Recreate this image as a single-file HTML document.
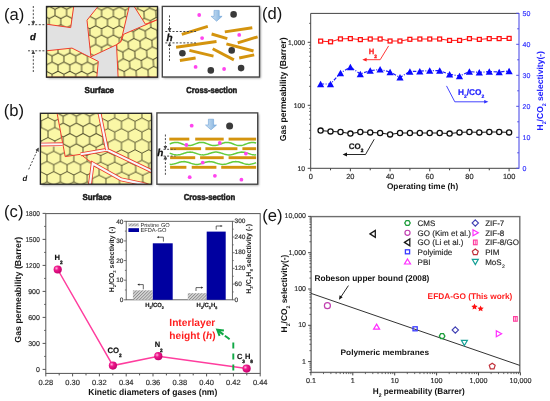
<!DOCTYPE html>
<html><head><meta charset="utf-8"><title>Figure</title><style>
html,body{margin:0;padding:0;background:#fff;overflow:hidden;}
svg{display:block;}
text{font-family:"Liberation Sans",Arial,sans-serif;text-rendering:geometricPrecision;}
</style></head><body>
<svg width="550" height="401" viewBox="0 0 550 401">
<rect width="550" height="401" fill="#fff"/>
<defs><pattern id="pa1" patternUnits="userSpaceOnUse" width="11.600" height="18.300" x="55.00" y="3.35"><rect x="-1" y="-1" width="13.600" height="20.300" fill="#faf7a6"/><path d="M5.80,0 V3.05 L11.60,6.10 V12.20 L5.80,15.25 V18.30 M5.80,15.25 L0,12.20 V6.10 L5.80,3.05" fill="none" stroke="#4c4828" stroke-width="1.0"/></pattern><pattern id="pa2" patternUnits="userSpaceOnUse" width="11.800" height="18.600" x="95.70" y="13.30"><rect x="-1" y="-1" width="13.800" height="20.600" fill="#faf7a6"/><path d="M5.90,0 V3.10 L11.80,6.20 V12.40 L5.90,15.50 V18.60 M5.90,15.50 L0,12.40 V6.20 L5.90,3.10" fill="none" stroke="#4c4828" stroke-width="1.0"/></pattern><pattern id="pa3" patternUnits="userSpaceOnUse" width="11.900" height="19.500" x="123.05" y="45.25" patternTransform="rotate(-4 129.0 55.0)"><rect x="-1" y="-1" width="13.900" height="21.500" fill="#faf7a6"/><path d="M5.95,0 V3.25 L11.90,6.50 V13.00 L5.95,16.25 V19.50 M5.95,16.25 L0,13.00 V6.50 L5.95,3.25" fill="none" stroke="#4c4828" stroke-width="1.0"/></pattern><pattern id="pa5" patternUnits="userSpaceOnUse" width="11.800" height="18.300" x="52.10" y="49.85"><rect x="-1" y="-1" width="13.800" height="20.300" fill="#faf7a6"/><path d="M5.90,0 V3.05 L11.80,6.10 V12.20 L5.90,15.25 V18.30 M5.90,15.25 L0,12.20 V6.10 L5.90,3.05" fill="none" stroke="#4c4828" stroke-width="1.0"/></pattern><pattern id="pb1" patternUnits="userSpaceOnUse" width="13.600" height="20.100" x="41.20" y="114.15"><rect x="-1" y="-1" width="15.600" height="22.100" fill="#faf7a6"/><path d="M6.80,0 V3.35 L13.60,6.70 V13.40 L6.80,16.75 V20.10 M6.80,16.75 L0,13.40 V6.70 L6.80,3.35" fill="none" stroke="#4f4c2a" stroke-width="0.95"/></pattern><pattern id="pb2" patternUnits="userSpaceOnUse" width="13.400" height="20.400" x="47.00" y="147.80"><rect x="-1" y="-1" width="15.400" height="22.400" fill="#faf7a6"/><path d="M6.70,0 V3.40 L13.40,6.80 V13.60 L6.70,17.00 V20.40 M6.70,17.00 L0,13.60 V6.80 L6.70,3.40" fill="none" stroke="#4f4c2a" stroke-width="0.95"/></pattern><pattern id="pb3" patternUnits="userSpaceOnUse" width="13.200" height="20.700" x="63.20" y="109.35"><rect x="-1" y="-1" width="15.200" height="22.700" fill="#faf7a6"/><path d="M6.60,0 V3.45 L13.20,6.90 V13.80 L6.60,17.25 V20.70 M6.60,17.25 L0,13.80 V6.90 L6.60,3.45" fill="none" stroke="#4f4c2a" stroke-width="0.95"/></pattern><pattern id="pb4" patternUnits="userSpaceOnUse" width="13.600" height="21.150" x="121.50" y="114.42"><rect x="-1" y="-1" width="15.600" height="23.150" fill="#faf7a6"/><path d="M6.80,0 V3.52 L13.60,7.05 V14.10 L6.80,17.62 V21.15 M6.80,17.62 L0,14.10 V7.05 L6.80,3.52" fill="none" stroke="#4f4c2a" stroke-width="0.95"/></pattern><pattern id="pb5" patternUnits="userSpaceOnUse" width="14.000" height="19.800" x="100.70" y="148.90"><rect x="-1" y="-1" width="16.000" height="21.800" fill="#faf7a6"/><path d="M7.00,0 V3.30 L14.00,6.60 V13.20 L7.00,16.50 V19.80 M7.00,16.50 L0,13.20 V6.60 L7.00,3.30" fill="none" stroke="#4f4c2a" stroke-width="0.95"/></pattern><pattern id="pb6" patternUnits="userSpaceOnUse" width="13.600" height="20.400" x="92.30" y="171.80"><rect x="-1" y="-1" width="15.600" height="22.400" fill="#faf7a6"/><path d="M6.80,0 V3.40 L13.60,6.80 V13.60 L6.80,17.00 V20.40 M6.80,17.00 L0,13.60 V6.80 L6.80,3.40" fill="none" stroke="#4f4c2a" stroke-width="0.95"/></pattern><clipPath id="clipA"><rect x="46.5" y="6.5" width="111" height="70.7"/></clipPath><clipPath id="clipB"><rect x="40.4" y="113.3" width="111.1" height="70.9"/></clipPath><linearGradient id="barr" x1="0" x2="1" y1="0" y2="0"><stop offset="0" stop-color="#cfe2f3"/><stop offset="1" stop-color="#7fb0de"/></linearGradient><filter id="shd" x="-10%" y="-10%" width="130%" height="130%"><feGaussianBlur stdDeviation="0.8"/></filter><radialGradient id="ball" cx="0.35" cy="0.35" r="0.7"><stop offset="0" stop-color="#ffb3e0"/><stop offset="0.35" stop-color="#f0198c"/><stop offset="1" stop-color="#c0006a"/></radialGradient><pattern id="hatch" patternUnits="userSpaceOnUse" width="2.2" height="2.2" patternTransform="rotate(45)"><rect width="2.2" height="2.2" fill="#d4d4d4"/><rect width="0.8" height="2.2" fill="#8c8c8c"/></pattern><marker id="arK" markerWidth="6" markerHeight="6" refX="5" refY="3" orient="auto" markerUnits="userSpaceOnUse"><path d="M0,0.5 L6,3 L0,5.5 Z" fill="#222"/></marker><marker id="arR" markerWidth="6" markerHeight="6" refX="5" refY="3" orient="auto" markerUnits="userSpaceOnUse"><path d="M0,0.5 L6,3 L0,5.5 Z" fill="#ff2020"/></marker><marker id="arB" markerWidth="6" markerHeight="6" refX="5" refY="3" orient="auto" markerUnits="userSpaceOnUse"><path d="M0,0.5 L6,3 L0,5.5 Z" fill="#2a2aff"/></marker><marker id="arD" markerWidth="4" markerHeight="4" refX="3" refY="2" orient="auto" markerUnits="userSpaceOnUse"><path d="M0,0 L4,2 L0,4 Z" fill="#444"/></marker><marker id="arS" markerWidth="3" markerHeight="3" refX="2.5" refY="1.5" orient="auto" markerUnits="userSpaceOnUse"><path d="M0,0 L3,1.5 L0,3 Z" fill="#222"/></marker></defs>
<text x="3.9" y="19.6" font-size="16.6" fill="#141414" text-anchor="start" >(a)</text>
<text x="3.7" y="115.6" font-size="16.6" fill="#141414" text-anchor="start" >(b)</text>
<text x="4.1" y="216.8" font-size="16.6" fill="#141414" text-anchor="start" >(c)</text>
<text x="262.1" y="18.8" font-size="16.6" fill="#141414" text-anchor="start" >(d)</text>
<text x="262.2" y="221.1" font-size="16.6" fill="#141414" text-anchor="start" >(e)</text>
<rect x="47.7" y="7.7" width="111.0" height="70.7" fill="#9a9a9a" filter="url(#shd)"/>
<rect x="46.5" y="6.5" width="111.0" height="70.7" fill="#e1e1e1"/>
<g clip-path="url(#clipA)">
<polygon points="46.5,6.5 73.7,6.5 70.7,27.6 46.5,24.2" fill="url(#pa1)" stroke="#ee3b2c" stroke-width="1.0" stroke-linejoin="round"/>
<polygon points="98,6.5 129.2,6.5 120.8,41.9 116.5,44.75 90.9,56.8 87.0,20.2" fill="url(#pa2)" stroke="#ee3b2c" stroke-width="1.0" stroke-linejoin="round"/>
<polygon points="134.2,6.5 157.5,6.5 157.5,19.7 145.4,24.2" fill="url(#pa3)" stroke="#ee3b2c" stroke-width="1.0" stroke-linejoin="round"/>
<polygon points="123.6,34.3 157.5,19.7 157.5,77.2 118.1,77.2 116.5,44.75 120.8,41.9" fill="url(#pa3)" stroke="#ee3b2c" stroke-width="1.0" stroke-linejoin="round"/>
<polygon points="46.5,50.8 72,48.1 98.3,61.4 96.8,77.2 46.5,77.2" fill="url(#pa5)" stroke="#ee3b2c" stroke-width="1.0" stroke-linejoin="round"/>
</g>
<rect x="46.5" y="6.5" width="111.0" height="70.7" fill="none" stroke="#262626" stroke-width="1.35"/>
<line x1="28" y1="24.7" x2="46.5" y2="24.7" stroke="#4a4a4a" stroke-width="1" stroke-dasharray="2,1.6"/>
<line x1="28" y1="50.8" x2="46.5" y2="50.8" stroke="#4a4a4a" stroke-width="1" stroke-dasharray="2,1.6"/>
<line x1="33.3" y1="6" x2="33.3" y2="24.2" stroke="#4a4a4a" stroke-width="1" stroke-dasharray="2,1.6" marker-end="url(#arD)"/>
<line x1="33.3" y1="72" x2="33.3" y2="51.3" stroke="#4a4a4a" stroke-width="1" stroke-dasharray="2,1.6" marker-end="url(#arD)"/>
<text x="30.0" y="40.2" font-size="9.5" font-weight="bold" font-style="italic" fill="#111" text-anchor="start" stroke="#111" stroke-width="0.3">d</text>
<rect x="163.5" y="7.6000000000000005" width="97.19999999999999" height="70.6" fill="#9a9a9a" filter="url(#shd)"/>
<rect x="162.3" y="6.4" width="97.19999999999999" height="70.6" fill="#fff"/>
<rect x="162.3" y="6.4" width="97.19999999999999" height="70.6" fill="none" stroke="#444" stroke-width="1.35"/>
<path d="M214.0,10.4 H219.2 V16.34 H222.1 L216.6,21.2 L211.1,16.34 H214.0 Z" fill="url(#barr)" stroke="#6fa3d6" stroke-width="0.6"/>
<line x1="181.8" y1="34.3" x2="207.8" y2="26.4" stroke="#d4940e" stroke-width="2.9"/>
<line x1="211.6" y1="34" x2="227.3" y2="38.7" stroke="#d4940e" stroke-width="2.9"/>
<line x1="224.8" y1="31.9" x2="252.3" y2="27.7" stroke="#d4940e" stroke-width="2.9"/>
<line x1="237.7" y1="42.9" x2="257.6" y2="36.8" stroke="#d4940e" stroke-width="2.9"/>
<line x1="176.1" y1="47.2" x2="216.5" y2="41.5" stroke="#d4940e" stroke-width="2.9"/>
<line x1="226.4" y1="43.8" x2="253.5" y2="51" stroke="#d4940e" stroke-width="2.9"/>
<line x1="189.4" y1="50.4" x2="213.5" y2="56.1" stroke="#d4940e" stroke-width="2.9"/>
<line x1="212.7" y1="48.7" x2="233.9" y2="59.9" stroke="#d4940e" stroke-width="2.9"/>
<line x1="179.9" y1="60.5" x2="195.6" y2="58" stroke="#d4940e" stroke-width="2.9"/>
<line x1="239.2" y1="58" x2="254.2" y2="54.8" stroke="#d4940e" stroke-width="2.9"/>
<circle cx="233.6" cy="14.4" r="3.3" fill="#3a3a3a"/>
<circle cx="182.4" cy="53.3" r="3.3" fill="#3a3a3a"/>
<circle cx="231.7" cy="50.4" r="3.3" fill="#3a3a3a"/>
<circle cx="210.8" cy="70.4" r="3.3" fill="#3a3a3a"/>
<circle cx="241.1" cy="68.1" r="3.3" fill="#3a3a3a"/>
<circle cx="199.2" cy="15" r="1.9" fill="#ff44ee"/>
<circle cx="202.1" cy="38.1" r="1.9" fill="#ff44ee"/>
<circle cx="239.2" cy="34.9" r="1.9" fill="#ff44ee"/>
<circle cx="195.6" cy="66.9" r="1.9" fill="#ff44ee"/>
<circle cx="224.1" cy="69" r="1.9" fill="#ff44ee"/>
<line x1="169.5" y1="15.4" x2="169.5" y2="31.0" stroke="#4a4a4a" stroke-width="1" stroke-dasharray="2,1.6" marker-end="url(#arD)"/>
<line x1="169.5" y1="60.9" x2="169.5" y2="43.4" stroke="#4a4a4a" stroke-width="1" stroke-dasharray="2,1.6" marker-end="url(#arD)"/>
<line x1="165.3" y1="31.5" x2="196" y2="31.5" stroke="#4a4a4a" stroke-width="1" stroke-dasharray="2,1.6"/>
<line x1="165.3" y1="42.9" x2="196" y2="42.9" stroke="#4a4a4a" stroke-width="1" stroke-dasharray="2,1.6"/>
<rect x="166.5" y="33.6" width="7.5" height="7.6" fill="#fff"/>
<text x="166.4" y="40.9" font-size="10" font-weight="bold" font-style="italic" fill="#111" text-anchor="start" stroke="#111" stroke-width="0.3">h</text>
<text x="84.6" y="93.1" font-size="8.6" font-weight="bold" fill="#1a1a1a" text-anchor="start" textLength="29.5" lengthAdjust="spacingAndGlyphs" stroke="#1a1a1a" stroke-width="0.5">Surface</text>
<text x="186.3" y="93.2" font-size="8.6" font-weight="bold" fill="#1a1a1a" text-anchor="start" textLength="51" lengthAdjust="spacingAndGlyphs" stroke="#1a1a1a" stroke-width="0.5">Cross-section</text>
<rect x="41.6" y="114.5" width="111.1" height="70.89999999999999" fill="#9a9a9a" filter="url(#shd)"/>
<rect x="40.4" y="113.3" width="111.1" height="70.89999999999999" fill="#fff"/>
<g clip-path="url(#clipB)">
<polygon points="40.4,113.3 57.1,113.3 62.6,142.6 40.4,142.6" fill="url(#pb1)"/>
<polygon points="40.4,146.5 63.3,146.5 65.2,156.6 80.6,154.3 92.7,163.5 89.8,184.2 40.4,184.2" fill="url(#pb2)"/>
<polygon points="57.1,113.3 99.5,113.3 107,149.75 80.6,154.3 65.2,156.6" fill="url(#pb3)"/>
<polygon points="99.5,113.3 151.5,113.3 151.5,171.2 107,149.75" fill="url(#pb4)"/>
<polygon points="80.6,154.3 107,149.75 151.5,171.2 151.5,184.2 141.25,184.2 121.25,179.4 92.7,163.5" fill="url(#pb5)"/>
<polygon points="92.7,163.5 121.25,179.4 141.25,184.2 89.8,184.2" fill="url(#pb6)"/>
<polyline points="57.1,113.3 65.2,156.6 80.6,154.3 92.7,163.5" fill="none" stroke="#ee3b2c" stroke-width="1.0" stroke-linejoin="round"/>
<polyline points="38,144.6 62.6,144.2" fill="none" stroke="#ee3b2c" stroke-width="3.8" stroke-linejoin="miter"/>
<polyline points="38,144.6 62.6,144.2" fill="none" stroke="#f6f7fc" stroke-width="2.1" stroke-linejoin="miter"/>
<polyline points="80.6,154.3 107,149.75 154,172.4" fill="none" stroke="#ee3b2c" stroke-width="3.8" stroke-linejoin="miter"/>
<polyline points="80.6,154.3 107,149.75 154,172.4" fill="none" stroke="#f6f7fc" stroke-width="2.1" stroke-linejoin="miter"/>
<polyline points="107,149.75 99.2,111.5" fill="none" stroke="#ee3b2c" stroke-width="3.8" stroke-linejoin="miter"/>
<polyline points="107,149.75 99.2,111.5" fill="none" stroke="#f6f7fc" stroke-width="2.1" stroke-linejoin="miter"/>
<polyline points="89.8,185.5 92.7,163.5 121.25,179.4 141.25,183.6 148,185.6" fill="none" stroke="#ee3b2c" stroke-width="3.8" stroke-linejoin="miter"/>
<polyline points="89.8,185.5 92.7,163.5 121.25,179.4 141.25,183.6 148,185.6" fill="none" stroke="#f6f7fc" stroke-width="2.1" stroke-linejoin="miter"/>
</g>
<rect x="40.4" y="113.3" width="111.1" height="70.89999999999999" fill="none" stroke="#262626" stroke-width="1.35"/>
<line x1="28.7" y1="169.4" x2="38.2" y2="148.4" stroke="#4a4a4a" stroke-width="1" stroke-dasharray="2,1.6" marker-end="url(#arD)"/>
<text x="22.6" y="181.2" font-size="7.8" font-weight="bold" font-style="italic" fill="#111" text-anchor="start" >d</text>
<rect x="158.1" y="114.10000000000001" width="100.79999999999998" height="71.29999999999998" fill="#9a9a9a" filter="url(#shd)"/>
<rect x="156.9" y="112.9" width="100.79999999999998" height="71.29999999999998" fill="#fff"/>
<rect x="156.9" y="112.9" width="100.79999999999998" height="71.29999999999998" fill="none" stroke="#444" stroke-width="1.35"/>
<path d="M208.4,119.2 H213.6 V125.03 H216.5 L211,129.8 L205.5,125.03 H208.4 Z" fill="url(#barr)" stroke="#6fa3d6" stroke-width="0.6"/>
<circle cx="229.6" cy="126.1" r="3.5" fill="#3a3a3a"/>
<rect x="169.3" y="137.65" width="20.0" height="2.9" fill="#d4940e"/>
<rect x="195.2" y="137.65" width="28.5" height="2.9" fill="#d4940e"/>
<rect x="228.6" y="137.65" width="27.50000000000003" height="2.9" fill="#d4940e"/>
<rect x="170.1" y="147.25" width="31.0" height="2.9" fill="#d4940e"/>
<rect x="205.4" y="147.25" width="32.0" height="2.9" fill="#d4940e"/>
<rect x="242.4" y="147.25" width="13.700000000000017" height="2.9" fill="#d4940e"/>
<rect x="170.1" y="156.25" width="25.099999999999994" height="2.9" fill="#d4940e"/>
<rect x="200.1" y="156.25" width="23.599999999999994" height="2.9" fill="#d4940e"/>
<rect x="228.6" y="156.25" width="27.50000000000003" height="2.9" fill="#d4940e"/>
<rect x="170.1" y="165.85000000000002" width="16.30000000000001" height="2.9" fill="#d4940e"/>
<rect x="191.7" y="165.85000000000002" width="24.700000000000017" height="2.9" fill="#d4940e"/>
<rect x="221.2" y="165.85000000000002" width="34.900000000000034" height="2.9" fill="#d4940e"/>
<polyline points="169.7,143.97 170.9,143.51 172.1,143.08 173.3,142.74 174.5,142.51 175.7,142.40 176.9,142.44 178.1,142.61 179.3,142.90 180.5,143.29 181.7,143.74 182.9,144.21 184.1,144.66 185.3,145.06 186.5,145.36 187.7,145.55 188.9,145.60 190.1,145.51 191.3,145.29 192.5,144.96 193.7,144.55 194.9,144.09 196.1,143.62 197.3,143.18 198.5,142.82 199.7,142.55 200.9,142.42 202.1,142.42 203.3,142.55 204.5,142.82 205.7,143.18 206.9,143.62 208.1,144.09 209.3,144.55 210.5,144.96 211.7,145.29 212.9,145.51 214.1,145.60 215.3,145.55 216.5,145.36 217.7,145.06 218.9,144.66 220.1,144.21 221.3,143.74 222.5,143.29 223.7,142.90 224.9,142.61 226.1,142.44 227.3,142.40 228.5,142.51 229.7,142.74 230.9,143.08 232.1,143.51 233.3,143.97 234.5,144.44 235.7,144.87 236.9,145.22 238.1,145.47 239.3,145.59 240.5,145.57 241.7,145.42 242.9,145.14 244.1,144.77 245.3,144.32 246.5,143.85 247.7,143.39 248.9,142.99 250.1,142.67 251.3,142.47 252.5,142.40 253.7,142.47 254.9,142.67 256.1,142.99" fill="none" stroke="#62cc3c" stroke-width="1.5"/>
<polyline points="169.7,153.23 170.9,153.64 172.1,154.03 173.3,154.38 174.5,154.65 175.7,154.83 176.9,154.90 178.1,154.85 179.3,154.69 180.5,154.43 181.7,154.09 182.9,153.70 184.1,153.30 185.3,152.91 186.5,152.57 187.7,152.31 188.9,152.15 190.1,152.10 191.3,152.17 192.5,152.35 193.7,152.62 194.9,152.97 196.1,153.36 197.3,153.77 198.5,154.15 199.7,154.48 200.9,154.72 202.1,154.87 203.3,154.90 204.5,154.81 205.7,154.61 206.9,154.32 208.1,153.96 209.3,153.57 210.5,153.16 211.7,152.79 212.9,152.47 214.1,152.25 215.3,152.12 216.5,152.11 217.7,152.22 218.9,152.43 220.1,152.73 221.3,153.10 222.5,153.50 223.7,153.90 224.9,154.27 226.1,154.57 227.3,154.78 228.5,154.89 229.7,154.88 230.9,154.75 232.1,154.53 233.3,154.21 234.5,153.84 235.7,153.43 236.9,153.04 238.1,152.68 239.3,152.39 240.5,152.19 241.7,152.10 242.9,152.13 244.1,152.28 245.3,152.52 246.5,152.85 247.7,153.23 248.9,153.64 250.1,154.03 251.3,154.38 252.5,154.65 253.7,154.83 254.9,154.90 256.1,154.85" fill="none" stroke="#62cc3c" stroke-width="1.5"/>
<polyline points="169.7,164.36 170.9,164.40 172.1,164.32 173.3,164.13 174.5,163.85 175.7,163.50 176.9,163.10 178.1,162.70 179.3,162.32 180.5,162.00 181.7,161.76 182.9,161.63 184.1,161.61 185.3,161.70 186.5,161.91 187.7,162.20 188.9,162.57 190.1,162.97 191.3,163.37 192.5,163.74 193.7,164.05 194.9,164.27 196.1,164.39 197.3,164.39 198.5,164.27 199.7,164.05 200.9,163.74 202.1,163.37 203.3,162.97 204.5,162.57 205.7,162.20 206.9,161.91 208.1,161.70 209.3,161.61 210.5,161.63 211.7,161.76 212.9,162.00 214.1,162.32 215.3,162.70 216.5,163.10 217.7,163.50 218.9,163.85 220.1,164.13 221.3,164.32 222.5,164.40 223.7,164.36 224.9,164.21 226.1,163.95 227.3,163.62 228.5,163.24 229.7,162.83 230.9,162.44 232.1,162.10 233.3,161.83 234.5,161.66 235.7,161.60 236.9,161.66 238.1,161.83 239.3,162.10 240.5,162.44 241.7,162.83 242.9,163.24 244.1,163.62 245.3,163.95 246.5,164.21 247.7,164.36 248.9,164.40 250.1,164.32 251.3,164.13 252.5,163.85 253.7,163.50 254.9,163.10 256.1,162.70" fill="none" stroke="#62cc3c" stroke-width="1.5"/>
<circle cx="191.7" cy="125.7" r="1.9" fill="#ff44ee"/>
<circle cx="186.4" cy="145" r="1.9" fill="#ff44ee"/>
<circle cx="219.8" cy="143" r="1.9" fill="#ff44ee"/>
<circle cx="245.9" cy="153.6" r="1.9" fill="#ff44ee"/>
<circle cx="202.7" cy="162.6" r="1.9" fill="#ff44ee"/>
<circle cx="189.7" cy="177.2" r="1.9" fill="#ff44ee"/>
<circle cx="214.9" cy="175.8" r="1.9" fill="#ff44ee"/>
<circle cx="241.4" cy="179.7" r="1.9" fill="#ff44ee"/>
<line x1="165.4" y1="134.5" x2="165.4" y2="148.8" stroke="#4a4a4a" stroke-width="1" stroke-dasharray="2,1.6" marker-end="url(#arD)"/>
<line x1="165.4" y1="174.8" x2="165.4" y2="156.6" stroke="#4a4a4a" stroke-width="1" stroke-dasharray="2,1.6" marker-end="url(#arD)"/>
<line x1="163.5" y1="149.3" x2="175.6" y2="149.3" stroke="#4a4a4a" stroke-width="1" stroke-dasharray="2,1.6"/>
<line x1="163.5" y1="156.1" x2="175.6" y2="156.1" stroke="#4a4a4a" stroke-width="1" stroke-dasharray="2,1.6"/>
<text x="157.2" y="156.4" font-size="10" font-weight="bold" font-style="italic" fill="#111" text-anchor="start" stroke="#111" stroke-width="0.3">h</text>
<text x="82.5" y="199.8" font-size="8.6" font-weight="bold" fill="#1a1a1a" text-anchor="start" textLength="29" lengthAdjust="spacingAndGlyphs" stroke="#1a1a1a" stroke-width="0.5">Surface</text>
<text x="183.7" y="199.8" font-size="8.6" font-weight="bold" fill="#1a1a1a" text-anchor="start" textLength="51.5" lengthAdjust="spacingAndGlyphs" stroke="#1a1a1a" stroke-width="0.5">Cross-section</text>
<rect x="45.8" y="213.6" width="214.39999999999998" height="159.79999999999998" fill="none" stroke="#555" stroke-width="1"/>
<line x1="42.60" y1="369.40" x2="45.80" y2="369.40" stroke="#555" stroke-width="1" />
<text x="39.9" y="371.59999999999997" font-size="7.0" fill="#2e2e2e" text-anchor="end" stroke="#2e2e2e" stroke-width="0.18">0</text>
<line x1="44.20" y1="356.40" x2="45.80" y2="356.40" stroke="#555" stroke-width="1" />
<line x1="42.60" y1="343.40" x2="45.80" y2="343.40" stroke="#555" stroke-width="1" />
<text x="39.9" y="345.599" font-size="7.0" fill="#2e2e2e" text-anchor="end" stroke="#2e2e2e" stroke-width="0.18">300</text>
<line x1="44.20" y1="330.40" x2="45.80" y2="330.40" stroke="#555" stroke-width="1" />
<line x1="42.60" y1="317.40" x2="45.80" y2="317.40" stroke="#555" stroke-width="1" />
<text x="39.9" y="319.59799999999996" font-size="7.0" fill="#2e2e2e" text-anchor="end" stroke="#2e2e2e" stroke-width="0.18">600</text>
<line x1="44.20" y1="304.40" x2="45.80" y2="304.40" stroke="#555" stroke-width="1" />
<line x1="42.60" y1="291.40" x2="45.80" y2="291.40" stroke="#555" stroke-width="1" />
<text x="39.9" y="293.597" font-size="7.0" fill="#2e2e2e" text-anchor="end" stroke="#2e2e2e" stroke-width="0.18">900</text>
<line x1="44.20" y1="278.40" x2="45.80" y2="278.40" stroke="#555" stroke-width="1" />
<line x1="42.60" y1="265.40" x2="45.80" y2="265.40" stroke="#555" stroke-width="1" />
<text x="39.9" y="267.59599999999995" font-size="7.0" fill="#2e2e2e" text-anchor="end" textLength="14.4" lengthAdjust="spacingAndGlyphs" stroke="#2e2e2e" stroke-width="0.18">1200</text>
<line x1="44.20" y1="252.40" x2="45.80" y2="252.40" stroke="#555" stroke-width="1" />
<line x1="42.60" y1="239.39" x2="45.80" y2="239.39" stroke="#555" stroke-width="1" />
<text x="39.9" y="241.59499999999997" font-size="7.0" fill="#2e2e2e" text-anchor="end" textLength="14.4" lengthAdjust="spacingAndGlyphs" stroke="#2e2e2e" stroke-width="0.18">1500</text>
<line x1="44.20" y1="226.39" x2="45.80" y2="226.39" stroke="#555" stroke-width="1" />
<line x1="42.60" y1="213.39" x2="45.80" y2="213.39" stroke="#555" stroke-width="1" />
<text x="39.9" y="215.59399999999997" font-size="7.0" fill="#2e2e2e" text-anchor="end" textLength="14.4" lengthAdjust="spacingAndGlyphs" stroke="#2e2e2e" stroke-width="0.18">1800</text>
<line x1="45.80" y1="373.40" x2="45.80" y2="376.40" stroke="#555" stroke-width="1" />
<text x="45.8" y="385.0" font-size="7.5" fill="#2e2e2e" text-anchor="middle" stroke="#2e2e2e" stroke-width="0.18">0.28</text>
<line x1="59.20" y1="373.40" x2="59.20" y2="375.40" stroke="#555" stroke-width="1" />
<line x1="72.60" y1="373.40" x2="72.60" y2="376.40" stroke="#555" stroke-width="1" />
<text x="72.60000000000002" y="385.0" font-size="7.5" fill="#2e2e2e" text-anchor="middle" stroke="#2e2e2e" stroke-width="0.18">0.30</text>
<line x1="86.00" y1="373.40" x2="86.00" y2="375.40" stroke="#555" stroke-width="1" />
<line x1="99.40" y1="373.40" x2="99.40" y2="376.40" stroke="#555" stroke-width="1" />
<text x="99.39999999999998" y="385.0" font-size="7.5" fill="#2e2e2e" text-anchor="middle" stroke="#2e2e2e" stroke-width="0.18">0.32</text>
<line x1="112.80" y1="373.40" x2="112.80" y2="375.40" stroke="#555" stroke-width="1" />
<line x1="126.20" y1="373.40" x2="126.20" y2="376.40" stroke="#555" stroke-width="1" />
<text x="126.2" y="385.0" font-size="7.5" fill="#2e2e2e" text-anchor="middle" stroke="#2e2e2e" stroke-width="0.18">0.34</text>
<line x1="139.60" y1="373.40" x2="139.60" y2="375.40" stroke="#555" stroke-width="1" />
<line x1="153.00" y1="373.40" x2="153.00" y2="376.40" stroke="#555" stroke-width="1" />
<text x="153.00000000000003" y="385.0" font-size="7.5" fill="#2e2e2e" text-anchor="middle" stroke="#2e2e2e" stroke-width="0.18">0.36</text>
<line x1="166.40" y1="373.40" x2="166.40" y2="375.40" stroke="#555" stroke-width="1" />
<line x1="179.80" y1="373.40" x2="179.80" y2="376.40" stroke="#555" stroke-width="1" />
<text x="179.79999999999995" y="385.0" font-size="7.5" fill="#2e2e2e" text-anchor="middle" stroke="#2e2e2e" stroke-width="0.18">0.38</text>
<line x1="193.20" y1="373.40" x2="193.20" y2="375.40" stroke="#555" stroke-width="1" />
<line x1="206.60" y1="373.40" x2="206.60" y2="376.40" stroke="#555" stroke-width="1" />
<text x="206.60000000000002" y="385.0" font-size="7.5" fill="#2e2e2e" text-anchor="middle" stroke="#2e2e2e" stroke-width="0.18">0.40</text>
<line x1="220.00" y1="373.40" x2="220.00" y2="375.40" stroke="#555" stroke-width="1" />
<line x1="233.40" y1="373.40" x2="233.40" y2="376.40" stroke="#555" stroke-width="1" />
<text x="233.40000000000003" y="385.0" font-size="7.5" fill="#2e2e2e" text-anchor="middle" stroke="#2e2e2e" stroke-width="0.18">0.42</text>
<line x1="246.80" y1="373.40" x2="246.80" y2="375.40" stroke="#555" stroke-width="1" />
<line x1="260.20" y1="373.40" x2="260.20" y2="376.40" stroke="#555" stroke-width="1" />
<text x="260.20000000000005" y="385.0" font-size="7.5" fill="#2e2e2e" text-anchor="middle" stroke="#2e2e2e" stroke-width="0.18">0.44</text>
<text x="88.3" y="394.5" font-size="8.8" font-weight="bold" fill="#111" text-anchor="start" textLength="129" lengthAdjust="spacingAndGlyphs" >Kinetic diameters of gases (nm)</text>
<text transform="translate(20.6,289.7) rotate(-90)" x="0" y="0" font-size="8.8" font-weight="bold" fill="#111" text-anchor="middle" textLength="106" lengthAdjust="spacingAndGlyphs">Gas permeability (Barrer)</text>
<rect x="126.2" y="221.3" width="106.2" height="78.5" fill="#fff" stroke="#555" stroke-width="0.9"/>
<line x1="124.00" y1="299.80" x2="126.20" y2="299.80" stroke="#555" stroke-width="0.8" />
<text x="123.4" y="302.0" font-size="6.5" fill="#2e2e2e" text-anchor="end" stroke="#2e2e2e" stroke-width="0.18">0</text>
<line x1="124.90" y1="289.99" x2="126.20" y2="289.99" stroke="#555" stroke-width="0.8" />
<line x1="124.00" y1="280.18" x2="126.20" y2="280.18" stroke="#555" stroke-width="0.8" />
<text x="123.4" y="282.375" font-size="6.5" fill="#2e2e2e" text-anchor="end" stroke="#2e2e2e" stroke-width="0.18">10</text>
<line x1="124.90" y1="270.36" x2="126.20" y2="270.36" stroke="#555" stroke-width="0.8" />
<line x1="124.00" y1="260.55" x2="126.20" y2="260.55" stroke="#555" stroke-width="0.8" />
<text x="123.4" y="262.75" font-size="6.5" fill="#2e2e2e" text-anchor="end" stroke="#2e2e2e" stroke-width="0.18">20</text>
<line x1="124.90" y1="250.74" x2="126.20" y2="250.74" stroke="#555" stroke-width="0.8" />
<line x1="124.00" y1="240.93" x2="126.20" y2="240.93" stroke="#555" stroke-width="0.8" />
<text x="123.4" y="243.125" font-size="6.5" fill="#2e2e2e" text-anchor="end" stroke="#2e2e2e" stroke-width="0.18">30</text>
<line x1="124.90" y1="231.11" x2="126.20" y2="231.11" stroke="#555" stroke-width="0.8" />
<line x1="124.00" y1="221.30" x2="126.20" y2="221.30" stroke="#555" stroke-width="0.8" />
<text x="123.4" y="223.5" font-size="6.5" fill="#2e2e2e" text-anchor="end" stroke="#2e2e2e" stroke-width="0.18">40</text>
<line x1="232.40" y1="299.80" x2="234.60" y2="299.80" stroke="#555" stroke-width="0.8" />
<text x="234.6" y="301.5" font-size="6.5" fill="#2e2e2e" text-anchor="start" stroke="#2e2e2e" stroke-width="0.18">0</text>
<line x1="232.40" y1="291.95" x2="233.70" y2="291.95" stroke="#555" stroke-width="0.8" />
<line x1="232.40" y1="284.10" x2="234.60" y2="284.10" stroke="#555" stroke-width="0.8" />
<text x="234.6" y="285.8" font-size="6.5" fill="#2e2e2e" text-anchor="start" stroke="#2e2e2e" stroke-width="0.18">60</text>
<line x1="232.40" y1="276.25" x2="233.70" y2="276.25" stroke="#555" stroke-width="0.8" />
<line x1="232.40" y1="268.40" x2="234.60" y2="268.40" stroke="#555" stroke-width="0.8" />
<text x="234.6" y="270.1" font-size="6.5" fill="#2e2e2e" text-anchor="start" stroke="#2e2e2e" stroke-width="0.18">120</text>
<line x1="232.40" y1="260.55" x2="233.70" y2="260.55" stroke="#555" stroke-width="0.8" />
<line x1="232.40" y1="252.70" x2="234.60" y2="252.70" stroke="#555" stroke-width="0.8" />
<text x="234.6" y="254.4" font-size="6.5" fill="#2e2e2e" text-anchor="start" stroke="#2e2e2e" stroke-width="0.18">180</text>
<line x1="232.40" y1="244.85" x2="233.70" y2="244.85" stroke="#555" stroke-width="0.8" />
<line x1="232.40" y1="237.00" x2="234.60" y2="237.00" stroke="#555" stroke-width="0.8" />
<text x="234.6" y="238.7" font-size="6.5" fill="#2e2e2e" text-anchor="start" stroke="#2e2e2e" stroke-width="0.18">240</text>
<line x1="232.40" y1="229.15" x2="233.70" y2="229.15" stroke="#555" stroke-width="0.8" />
<line x1="232.40" y1="221.30" x2="234.60" y2="221.30" stroke="#555" stroke-width="0.8" />
<text x="234.6" y="223.0" font-size="6.5" fill="#2e2e2e" text-anchor="start" stroke="#2e2e2e" stroke-width="0.18">300</text>
<rect x="132.9" y="290.3" width="19.7" height="9.5" fill="url(#hatch)"/>
<rect x="152.8" y="243.3" width="19.9" height="56.5" fill="#0000a0"/>
<rect x="187.8" y="293.2" width="18.9" height="6.600000000000023" fill="url(#hatch)"/>
<rect x="206.7" y="231.6" width="19.0" height="68.20000000000002" fill="#0000a0"/>
<rect x="128.4" y="223.4" width="10.4" height="3.0" fill="url(#hatch)"/>
<rect x="128.4" y="228.2" width="10.6" height="3.8" fill="#0000a0"/>
<text x="140.4" y="226.8" font-size="5.7" fill="#2e2e2e" text-anchor="start" >Pristine GO</text>
<text x="140.4" y="232.4" font-size="5.7" fill="#2e2e2e" text-anchor="start" >EFDA-GO</text>
<polyline points="143.3,289.3 143.3,284.6 138.9,284.6" fill="none" stroke="#222" stroke-width="0.7"/>
<path d="M137.4,284.6 L139.4,283.5 L139.4,285.70000000000005 Z" fill="#222"/>
<polyline points="163.4,241.6 163.4,237.2 158.3,237.2" fill="none" stroke="#222" stroke-width="0.7"/>
<path d="M156.8,237.2 L158.8,236.1 L158.8,238.29999999999998 Z" fill="#222"/>
<polyline points="196.0,291.0 196.0,287.6 201.7,287.6" fill="none" stroke="#222" stroke-width="0.7"/>
<path d="M203.2,287.6 L201.2,286.5 L201.2,288.70000000000005 Z" fill="#222"/>
<polyline points="216.2,229.6 216.2,226.0 221.1,226.0" fill="none" stroke="#222" stroke-width="0.7"/>
<path d="M222.6,226.0 L220.6,224.9 L220.6,227.1 Z" fill="#222"/>
<text x="145.2" y="307.0" font-size="6.0" font-weight="bold" fill="#1a1a1a" text-anchor="start" textLength="18.7" lengthAdjust="spacingAndGlyphs" stroke="#1a1a1a" stroke-width="0.2">H<tspan font-size="3.72" dy="1.92">2</tspan><tspan dy="-1.92">/CO</tspan><tspan font-size="3.72" dy="1.92">2</tspan></text>
<text x="196.6" y="307.0" font-size="6.0" font-weight="bold" fill="#1a1a1a" text-anchor="start" textLength="20.6" lengthAdjust="spacingAndGlyphs" stroke="#1a1a1a" stroke-width="0.2">H<tspan font-size="3.72" dy="1.92">2</tspan><tspan dy="-1.92">/C</tspan><tspan font-size="3.72" dy="1.92">3</tspan><tspan dy="-1.92">H</tspan><tspan font-size="3.72" dy="1.92">8</tspan></text>
<text transform="translate(113.7,259.4) rotate(-90)" x="0" y="0" font-size="7.0" font-weight="bold" fill="#222" text-anchor="middle" textLength="65.5" lengthAdjust="spacingAndGlyphs">H<tspan font-size="4.34" dy="2.24">2</tspan><tspan dy="-2.24">/CO</tspan><tspan font-size="4.34" dy="2.24">2</tspan><tspan dy="-2.24"> selectivity (-)</tspan></text>
<text transform="translate(250.8,258.9) rotate(-90)" x="0" y="0" font-size="7.0" font-weight="bold" fill="#222" text-anchor="middle" textLength="69.8" lengthAdjust="spacingAndGlyphs">H<tspan font-size="4.34" dy="2.24">2</tspan><tspan dy="-2.24">/C</tspan><tspan font-size="4.34" dy="2.24">3</tspan><tspan dy="-2.24">H</tspan><tspan font-size="4.34" dy="2.24">8</tspan><tspan dy="-2.24"> selectivity (-)</tspan></text>
<polyline points="57.7,269.5 112.9,365.6 158.3,356.2 246.6,368.6" fill="none" stroke="#ff3d9e" stroke-width="1.5"/>
<circle cx="57.7" cy="269.5" r="4.1" fill="url(#ball)"/>
<circle cx="112.9" cy="365.6" r="4.1" fill="url(#ball)"/>
<circle cx="158.3" cy="356.2" r="4.1" fill="url(#ball)"/>
<circle cx="246.6" cy="368.6" r="4.1" fill="url(#ball)"/>
<text x="54.5" y="259.8" font-size="7.6" font-weight="bold" fill="#111" text-anchor="start" stroke="#111" stroke-width="0.15">H<tspan font-size="4.7" stroke="#111" stroke-width="0.3" dy="3.8">2</tspan></text>
<text x="107.4" y="353.3" font-size="7.8" font-weight="bold" fill="#111" text-anchor="start" stroke="#111" stroke-width="0.15">CO<tspan font-size="4.7" stroke="#111" stroke-width="0.3" dy="3.6">2</tspan></text>
<text x="154.7" y="347.3" font-size="7.5" font-weight="bold" fill="#111" text-anchor="start" stroke="#111" stroke-width="0.15">N<tspan font-size="4.7" stroke="#111" stroke-width="0.3" dy="4.2">2</tspan></text>
<text x="236.9" y="358.8" font-size="7.5" font-weight="bold" fill="#111" text-anchor="start" stroke="#111" stroke-width="0.15">C<tspan font-size="4.7" stroke="#111" stroke-width="0.3" dy="3.7">3</tspan><tspan dy="-3.7">H</tspan><tspan font-size="4.7" stroke="#111" stroke-width="0.3" dy="3.7">8</tspan></text>
<text x="169.3" y="325.8" font-size="10.4" font-weight="bold" fill="#ff1f1f" text-anchor="start" textLength="46" lengthAdjust="spacingAndGlyphs" >Interlayer</text>
<text x="169.3" y="339.3" font-size="10.4" font-weight="bold" fill="#ff1f1f" text-anchor="start" textLength="46.3" lengthAdjust="spacingAndGlyphs" >height (<tspan font-style="italic">h</tspan>)</text>
<polyline points="233.3,370.5 233.3,342.2 227.4,337.6 220.0,332.0" fill="none" stroke="#10a845" stroke-width="1.9" stroke-dasharray="6,5"/>
<polyline points="223.9,330.6 217.2,329.7 219.6,335.9" fill="none" stroke="#10a845" stroke-width="2"/>
<line x1="217.6" y1="330.1" x2="223.4" y2="334.6" stroke="#10a845" stroke-width="2"/>
<polyline points="519.0,13.4 310.7,13.4 310.7,168.3 519.0,168.3" fill="none" stroke="#444" stroke-width="1"/>
<line x1="519.00" y1="12.90" x2="519.00" y2="168.80" stroke="#5050e8" stroke-width="1.1" />
<line x1="310.70" y1="168.30" x2="310.70" y2="171.30" stroke="#444" stroke-width="1" />
<text x="310.7" y="179.2" font-size="7.4" fill="#2e2e2e" text-anchor="middle" stroke="#2e2e2e" stroke-width="0.18">0</text>
<line x1="330.54" y1="168.30" x2="330.54" y2="170.30" stroke="#444" stroke-width="1" />
<line x1="350.38" y1="168.30" x2="350.38" y2="171.30" stroke="#444" stroke-width="1" />
<text x="350.38" y="179.2" font-size="7.4" fill="#2e2e2e" text-anchor="middle" stroke="#2e2e2e" stroke-width="0.18">20</text>
<line x1="370.22" y1="168.30" x2="370.22" y2="170.30" stroke="#444" stroke-width="1" />
<line x1="390.06" y1="168.30" x2="390.06" y2="171.30" stroke="#444" stroke-width="1" />
<text x="390.06" y="179.2" font-size="7.4" fill="#2e2e2e" text-anchor="middle" stroke="#2e2e2e" stroke-width="0.18">40</text>
<line x1="409.90" y1="168.30" x2="409.90" y2="170.30" stroke="#444" stroke-width="1" />
<line x1="429.74" y1="168.30" x2="429.74" y2="171.30" stroke="#444" stroke-width="1" />
<text x="429.74" y="179.2" font-size="7.4" fill="#2e2e2e" text-anchor="middle" stroke="#2e2e2e" stroke-width="0.18">60</text>
<line x1="449.58" y1="168.30" x2="449.58" y2="170.30" stroke="#444" stroke-width="1" />
<line x1="469.42" y1="168.30" x2="469.42" y2="171.30" stroke="#444" stroke-width="1" />
<text x="469.41999999999996" y="179.2" font-size="7.4" fill="#2e2e2e" text-anchor="middle" stroke="#2e2e2e" stroke-width="0.18">80</text>
<line x1="489.26" y1="168.30" x2="489.26" y2="170.30" stroke="#444" stroke-width="1" />
<line x1="509.10" y1="168.30" x2="509.10" y2="171.30" stroke="#444" stroke-width="1" />
<text x="509.1" y="179.2" font-size="7.4" fill="#2e2e2e" text-anchor="middle" stroke="#2e2e2e" stroke-width="0.18">100</text>
<line x1="307.70" y1="168.30" x2="310.70" y2="168.30" stroke="#444" stroke-width="1" />
<text x="305.1" y="170.70000000000002" font-size="6.8" fill="#2e2e2e" text-anchor="end" stroke="#2e2e2e" stroke-width="0.18">10</text>
<line x1="309.10" y1="149.34" x2="310.70" y2="149.34" stroke="#444" stroke-width="0.8" />
<line x1="309.10" y1="138.24" x2="310.70" y2="138.24" stroke="#444" stroke-width="0.8" />
<line x1="309.10" y1="130.37" x2="310.70" y2="130.37" stroke="#444" stroke-width="0.8" />
<line x1="309.10" y1="124.26" x2="310.70" y2="124.26" stroke="#444" stroke-width="0.8" />
<line x1="309.10" y1="119.28" x2="310.70" y2="119.28" stroke="#444" stroke-width="0.8" />
<line x1="309.10" y1="115.06" x2="310.70" y2="115.06" stroke="#444" stroke-width="0.8" />
<line x1="309.10" y1="111.41" x2="310.70" y2="111.41" stroke="#444" stroke-width="0.8" />
<line x1="309.10" y1="108.18" x2="310.70" y2="108.18" stroke="#444" stroke-width="0.8" />
<line x1="307.70" y1="105.30" x2="310.70" y2="105.30" stroke="#444" stroke-width="1" />
<text x="305.1" y="107.70000000000002" font-size="6.8" fill="#2e2e2e" text-anchor="end" stroke="#2e2e2e" stroke-width="0.18">100</text>
<line x1="309.10" y1="86.34" x2="310.70" y2="86.34" stroke="#444" stroke-width="0.8" />
<line x1="309.10" y1="75.24" x2="310.70" y2="75.24" stroke="#444" stroke-width="0.8" />
<line x1="309.10" y1="67.37" x2="310.70" y2="67.37" stroke="#444" stroke-width="0.8" />
<line x1="309.10" y1="61.26" x2="310.70" y2="61.26" stroke="#444" stroke-width="0.8" />
<line x1="309.10" y1="56.28" x2="310.70" y2="56.28" stroke="#444" stroke-width="0.8" />
<line x1="309.10" y1="52.06" x2="310.70" y2="52.06" stroke="#444" stroke-width="0.8" />
<line x1="309.10" y1="48.41" x2="310.70" y2="48.41" stroke="#444" stroke-width="0.8" />
<line x1="309.10" y1="45.18" x2="310.70" y2="45.18" stroke="#444" stroke-width="0.8" />
<line x1="307.70" y1="42.30" x2="310.70" y2="42.30" stroke="#444" stroke-width="1" />
<text x="305.1" y="44.70000000000001" font-size="6.8" fill="#2e2e2e" text-anchor="end" stroke="#2e2e2e" stroke-width="0.18">1,000</text>
<line x1="309.10" y1="23.34" x2="310.70" y2="23.34" stroke="#444" stroke-width="0.8" />
<line x1="516.20" y1="168.30" x2="519.00" y2="168.30" stroke="#5050e8" stroke-width="1" />
<text x="522.6" y="170.8" font-size="7.0" fill="#3434ff" text-anchor="start" stroke="#3434ff" stroke-width="0.18">0</text>
<line x1="517.20" y1="152.80" x2="519.00" y2="152.80" stroke="#5050e8" stroke-width="1" />
<line x1="516.20" y1="137.30" x2="519.00" y2="137.30" stroke="#5050e8" stroke-width="1" />
<text x="522.6" y="139.8" font-size="7.0" fill="#3434ff" text-anchor="start" stroke="#3434ff" stroke-width="0.18">10</text>
<line x1="517.20" y1="121.80" x2="519.00" y2="121.80" stroke="#5050e8" stroke-width="1" />
<line x1="516.20" y1="106.30" x2="519.00" y2="106.30" stroke="#5050e8" stroke-width="1" />
<text x="522.6" y="108.80000000000001" font-size="7.0" fill="#3434ff" text-anchor="start" stroke="#3434ff" stroke-width="0.18">20</text>
<line x1="517.20" y1="90.80" x2="519.00" y2="90.80" stroke="#5050e8" stroke-width="1" />
<line x1="516.20" y1="75.30" x2="519.00" y2="75.30" stroke="#5050e8" stroke-width="1" />
<text x="522.6" y="77.80000000000001" font-size="7.0" fill="#3434ff" text-anchor="start" stroke="#3434ff" stroke-width="0.18">30</text>
<line x1="517.20" y1="59.80" x2="519.00" y2="59.80" stroke="#5050e8" stroke-width="1" />
<line x1="516.20" y1="44.30" x2="519.00" y2="44.30" stroke="#5050e8" stroke-width="1" />
<text x="522.6" y="46.80000000000001" font-size="7.0" fill="#3434ff" text-anchor="start" stroke="#3434ff" stroke-width="0.18">40</text>
<line x1="517.20" y1="28.80" x2="519.00" y2="28.80" stroke="#5050e8" stroke-width="1" />
<line x1="516.20" y1="13.30" x2="519.00" y2="13.30" stroke="#5050e8" stroke-width="1" />
<text x="522.6" y="15.800000000000011" font-size="7.0" fill="#3434ff" text-anchor="start" stroke="#3434ff" stroke-width="0.18">50</text>
<text x="386.9" y="188.9" font-size="8.2" font-weight="bold" fill="#111" text-anchor="start" textLength="71.3" lengthAdjust="spacingAndGlyphs" >Operating time (h)</text>
<text transform="translate(285.6,89.4) rotate(-90)" x="0" y="0" font-size="8.7" font-weight="bold" fill="#111" text-anchor="middle" textLength="103.8" lengthAdjust="spacingAndGlyphs">Gas permeability (Barrer)</text>
<text transform="translate(543.2,90.8) rotate(-90)" x="0" y="0" font-size="8.6" font-weight="bold" fill="#2020ff" text-anchor="middle" textLength="79.5" lengthAdjust="spacingAndGlyphs">H<tspan font-size="5.33" dy="2.75">2</tspan><tspan dy="-2.75">/CO</tspan><tspan font-size="5.33" dy="2.75">2</tspan><tspan dy="-2.75"> selectivity(-)</tspan></text>
<polyline points="320.6,41.1 330.5,41.8 340.5,38.9 350.4,38.6 360.3,39.6 370.2,39 380.1,39 390.1,41 400.0,41 409.9,39.3 419.8,39 429.7,39 439.7,39 449.6,40.4 459.5,40.4 469.4,38.6 479.3,39.4 489.3,38.6 499.2,38.6 509.1,38.4" fill="none" stroke="#ff1a1a" stroke-width="1"/>
<rect x="318.7" y="39.15" width="3.9" height="3.9" fill="#fff" stroke="#ff1010" stroke-width="1.3"/>
<rect x="328.6" y="39.85" width="3.9" height="3.9" fill="#fff" stroke="#ff1010" stroke-width="1.3"/>
<rect x="338.5" y="36.95" width="3.9" height="3.9" fill="#fff" stroke="#ff1010" stroke-width="1.3"/>
<rect x="348.4" y="36.65" width="3.9" height="3.9" fill="#fff" stroke="#ff1010" stroke-width="1.3"/>
<rect x="358.4" y="37.65" width="3.9" height="3.9" fill="#fff" stroke="#ff1010" stroke-width="1.3"/>
<rect x="368.3" y="37.05" width="3.9" height="3.9" fill="#fff" stroke="#ff1010" stroke-width="1.3"/>
<rect x="378.2" y="37.05" width="3.9" height="3.9" fill="#fff" stroke="#ff1010" stroke-width="1.3"/>
<rect x="388.1" y="39.05" width="3.9" height="3.9" fill="#fff" stroke="#ff1010" stroke-width="1.3"/>
<rect x="398.0" y="39.05" width="3.9" height="3.9" fill="#fff" stroke="#ff1010" stroke-width="1.3"/>
<rect x="407.9" y="37.35" width="3.9" height="3.9" fill="#fff" stroke="#ff1010" stroke-width="1.3"/>
<rect x="417.9" y="37.05" width="3.9" height="3.9" fill="#fff" stroke="#ff1010" stroke-width="1.3"/>
<rect x="427.8" y="37.05" width="3.9" height="3.9" fill="#fff" stroke="#ff1010" stroke-width="1.3"/>
<rect x="437.7" y="37.05" width="3.9" height="3.9" fill="#fff" stroke="#ff1010" stroke-width="1.3"/>
<rect x="447.6" y="38.45" width="3.9" height="3.9" fill="#fff" stroke="#ff1010" stroke-width="1.3"/>
<rect x="457.6" y="38.45" width="3.9" height="3.9" fill="#fff" stroke="#ff1010" stroke-width="1.3"/>
<rect x="467.5" y="36.65" width="3.9" height="3.9" fill="#fff" stroke="#ff1010" stroke-width="1.3"/>
<rect x="477.4" y="37.45" width="3.9" height="3.9" fill="#fff" stroke="#ff1010" stroke-width="1.3"/>
<rect x="487.3" y="36.65" width="3.9" height="3.9" fill="#fff" stroke="#ff1010" stroke-width="1.3"/>
<rect x="497.2" y="36.65" width="3.9" height="3.9" fill="#fff" stroke="#ff1010" stroke-width="1.3"/>
<rect x="507.2" y="36.45" width="3.9" height="3.9" fill="#fff" stroke="#ff1010" stroke-width="1.3"/>
<polyline points="320.6,84 330.5,84 340.5,73 350.4,67 360.3,74 370.2,70.6 380.1,69.4 390.1,72 400.0,77.4 409.9,71.5 419.8,71.2 429.7,70.6 439.7,70.6 449.6,74.4 459.5,76 469.4,71.6 479.3,72.4 489.3,71.6 499.2,72 509.1,71" fill="none" stroke="#1a1aff" stroke-width="1.2" stroke-dasharray="3.5,1.5,1,1.5"/>
<path d="M320.6,80.7 L324.2,87.2 L317.0,87.2 Z" fill="#0a0aff"/>
<path d="M330.5,80.7 L334.1,87.2 L326.9,87.2 Z" fill="#0a0aff"/>
<path d="M340.5,69.7 L344.1,76.2 L336.9,76.2 Z" fill="#0a0aff"/>
<path d="M350.4,63.7 L354.0,70.2 L346.8,70.2 Z" fill="#0a0aff"/>
<path d="M360.3,70.7 L363.9,77.2 L356.7,77.2 Z" fill="#0a0aff"/>
<path d="M370.2,67.3 L373.8,73.8 L366.6,73.8 Z" fill="#0a0aff"/>
<path d="M380.1,66.1 L383.7,72.6 L376.5,72.6 Z" fill="#0a0aff"/>
<path d="M390.1,68.7 L393.7,75.2 L386.5,75.2 Z" fill="#0a0aff"/>
<path d="M400.0,74.1 L403.6,80.6 L396.4,80.6 Z" fill="#0a0aff"/>
<path d="M409.9,68.2 L413.5,74.7 L406.3,74.7 Z" fill="#0a0aff"/>
<path d="M419.8,67.9 L423.4,74.4 L416.2,74.4 Z" fill="#0a0aff"/>
<path d="M429.7,67.3 L433.3,73.8 L426.1,73.8 Z" fill="#0a0aff"/>
<path d="M439.7,67.3 L443.3,73.8 L436.1,73.8 Z" fill="#0a0aff"/>
<path d="M449.6,71.1 L453.2,77.6 L446.0,77.6 Z" fill="#0a0aff"/>
<path d="M459.5,72.7 L463.1,79.2 L455.9,79.2 Z" fill="#0a0aff"/>
<path d="M469.4,68.3 L473.0,74.8 L465.8,74.8 Z" fill="#0a0aff"/>
<path d="M479.3,69.1 L482.9,75.6 L475.7,75.6 Z" fill="#0a0aff"/>
<path d="M489.3,68.3 L492.9,74.8 L485.7,74.8 Z" fill="#0a0aff"/>
<path d="M499.2,68.7 L502.8,75.2 L495.6,75.2 Z" fill="#0a0aff"/>
<path d="M509.1,67.7 L512.7,74.2 L505.5,74.2 Z" fill="#0a0aff"/>
<polyline points="320.6,130.6 330.5,131.4 340.5,132 350.4,133.6 360.3,132 370.2,132.4 380.1,133 390.1,134.4 400.0,133 409.9,133 419.8,133 429.7,133 439.7,133 449.6,133.6 459.5,132.4 469.4,132 479.3,132.4 489.3,132 499.2,132 509.1,132.4" fill="none" stroke="#111" stroke-width="1"/>
<circle cx="320.6" cy="130.6" r="2.6" fill="#fff" stroke="#111" stroke-width="1.3"/>
<circle cx="330.5" cy="131.4" r="2.6" fill="#fff" stroke="#111" stroke-width="1.3"/>
<circle cx="340.5" cy="132" r="2.6" fill="#fff" stroke="#111" stroke-width="1.3"/>
<circle cx="350.4" cy="133.6" r="2.6" fill="#fff" stroke="#111" stroke-width="1.3"/>
<circle cx="360.3" cy="132" r="2.6" fill="#fff" stroke="#111" stroke-width="1.3"/>
<circle cx="370.2" cy="132.4" r="2.6" fill="#fff" stroke="#111" stroke-width="1.3"/>
<circle cx="380.1" cy="133" r="2.6" fill="#fff" stroke="#111" stroke-width="1.3"/>
<circle cx="390.1" cy="134.4" r="2.6" fill="#fff" stroke="#111" stroke-width="1.3"/>
<circle cx="400.0" cy="133" r="2.6" fill="#fff" stroke="#111" stroke-width="1.3"/>
<circle cx="409.9" cy="133" r="2.6" fill="#fff" stroke="#111" stroke-width="1.3"/>
<circle cx="419.8" cy="133" r="2.6" fill="#fff" stroke="#111" stroke-width="1.3"/>
<circle cx="429.7" cy="133" r="2.6" fill="#fff" stroke="#111" stroke-width="1.3"/>
<circle cx="439.7" cy="133" r="2.6" fill="#fff" stroke="#111" stroke-width="1.3"/>
<circle cx="449.6" cy="133.6" r="2.6" fill="#fff" stroke="#111" stroke-width="1.3"/>
<circle cx="459.5" cy="132.4" r="2.6" fill="#fff" stroke="#111" stroke-width="1.3"/>
<circle cx="469.4" cy="132" r="2.6" fill="#fff" stroke="#111" stroke-width="1.3"/>
<circle cx="479.3" cy="132.4" r="2.6" fill="#fff" stroke="#111" stroke-width="1.3"/>
<circle cx="489.3" cy="132" r="2.6" fill="#fff" stroke="#111" stroke-width="1.3"/>
<circle cx="499.2" cy="132" r="2.6" fill="#fff" stroke="#111" stroke-width="1.3"/>
<circle cx="509.1" cy="132.4" r="2.6" fill="#fff" stroke="#111" stroke-width="1.3"/>
<text x="368.8" y="53.6" font-size="7.6" font-weight="bold" fill="#ff2020" text-anchor="start" stroke="#ff2020" stroke-width="0.25">H<tspan font-size="4.7" stroke-width="0.35" dy="4.1">2</tspan></text>
<polyline points="388.6,45.9 380.2,59.7 365.5,59.7" fill="none" stroke="#ff2020" stroke-width="0.9"/>
<path d="M362.3,59.7 L366.6,57.8 L366.6,61.6 Z" fill="#ff2020"/>
<text x="348.7" y="148.5" font-size="8.0" font-weight="bold" fill="#111" text-anchor="start" stroke="#111" stroke-width="0.2">CO<tspan font-size="4.7" stroke-width="0.35" dy="3.6">2</tspan></text>
<polyline points="374.2,139.3 365.5,154.5 345.5,154.5" fill="none" stroke="#111" stroke-width="0.9"/>
<path d="M342.6,154.5 L347.0,152.6 L347.0,156.4 Z" fill="#111"/>
<text x="458.0" y="94.9" font-size="8.4" font-weight="bold" fill="#2020ff" text-anchor="start" textLength="26.3" lengthAdjust="spacingAndGlyphs" stroke="#2020ff" stroke-width="0.2">H<tspan font-size="5" dy="3.2">2</tspan><tspan dy="-3.2">/CO</tspan><tspan font-size="5" dy="3.2">2</tspan></text>
<polyline points="446.5,85.9 454.8,101.8 485.2,101.8" fill="none" stroke="#3030ff" stroke-width="0.9"/>
<path d="M488.4,101.8 L484.2,100.1 L484.2,103.5 Z" fill="#3030ff"/>
<rect x="311.1" y="216.6" width="208.69999999999993" height="155.79999999999998" fill="none" stroke="#6e6e6e" stroke-width="1.4"/>
<line x1="310.90" y1="372.40" x2="310.90" y2="375.40" stroke="#444" stroke-width="1" />
<text x="310.9" y="382.9" font-size="7.2" fill="#2e2e2e" text-anchor="middle" stroke="#2e2e2e" stroke-width="0.18">0.1</text>
<line x1="323.51" y1="372.40" x2="323.51" y2="374.10" stroke="#444" stroke-width="0.8" />
<line x1="330.89" y1="372.40" x2="330.89" y2="374.10" stroke="#444" stroke-width="0.8" />
<line x1="336.13" y1="372.40" x2="336.13" y2="374.10" stroke="#444" stroke-width="0.8" />
<line x1="340.19" y1="372.40" x2="340.19" y2="374.10" stroke="#444" stroke-width="0.8" />
<line x1="343.50" y1="372.40" x2="343.50" y2="374.10" stroke="#444" stroke-width="0.8" />
<line x1="346.31" y1="372.40" x2="346.31" y2="374.10" stroke="#444" stroke-width="0.8" />
<line x1="348.74" y1="372.40" x2="348.74" y2="374.10" stroke="#444" stroke-width="0.8" />
<line x1="350.88" y1="372.40" x2="350.88" y2="374.10" stroke="#444" stroke-width="0.8" />
<line x1="352.80" y1="372.40" x2="352.80" y2="375.40" stroke="#444" stroke-width="1" />
<text x="352.79999999999995" y="382.9" font-size="7.2" fill="#2e2e2e" text-anchor="middle" stroke="#2e2e2e" stroke-width="0.18">1</text>
<line x1="365.41" y1="372.40" x2="365.41" y2="374.10" stroke="#444" stroke-width="0.8" />
<line x1="372.79" y1="372.40" x2="372.79" y2="374.10" stroke="#444" stroke-width="0.8" />
<line x1="378.03" y1="372.40" x2="378.03" y2="374.10" stroke="#444" stroke-width="0.8" />
<line x1="382.09" y1="372.40" x2="382.09" y2="374.10" stroke="#444" stroke-width="0.8" />
<line x1="385.40" y1="372.40" x2="385.40" y2="374.10" stroke="#444" stroke-width="0.8" />
<line x1="388.21" y1="372.40" x2="388.21" y2="374.10" stroke="#444" stroke-width="0.8" />
<line x1="390.64" y1="372.40" x2="390.64" y2="374.10" stroke="#444" stroke-width="0.8" />
<line x1="392.78" y1="372.40" x2="392.78" y2="374.10" stroke="#444" stroke-width="0.8" />
<line x1="394.70" y1="372.40" x2="394.70" y2="375.40" stroke="#444" stroke-width="1" />
<text x="394.7" y="382.9" font-size="7.2" fill="#2e2e2e" text-anchor="middle" stroke="#2e2e2e" stroke-width="0.18">10</text>
<line x1="407.31" y1="372.40" x2="407.31" y2="374.10" stroke="#444" stroke-width="0.8" />
<line x1="414.69" y1="372.40" x2="414.69" y2="374.10" stroke="#444" stroke-width="0.8" />
<line x1="419.93" y1="372.40" x2="419.93" y2="374.10" stroke="#444" stroke-width="0.8" />
<line x1="423.99" y1="372.40" x2="423.99" y2="374.10" stroke="#444" stroke-width="0.8" />
<line x1="427.30" y1="372.40" x2="427.30" y2="374.10" stroke="#444" stroke-width="0.8" />
<line x1="430.11" y1="372.40" x2="430.11" y2="374.10" stroke="#444" stroke-width="0.8" />
<line x1="432.54" y1="372.40" x2="432.54" y2="374.10" stroke="#444" stroke-width="0.8" />
<line x1="434.68" y1="372.40" x2="434.68" y2="374.10" stroke="#444" stroke-width="0.8" />
<line x1="436.60" y1="372.40" x2="436.60" y2="375.40" stroke="#444" stroke-width="1" />
<text x="436.59999999999997" y="382.9" font-size="7.2" fill="#2e2e2e" text-anchor="middle" stroke="#2e2e2e" stroke-width="0.18">100</text>
<line x1="449.21" y1="372.40" x2="449.21" y2="374.10" stroke="#444" stroke-width="0.8" />
<line x1="456.59" y1="372.40" x2="456.59" y2="374.10" stroke="#444" stroke-width="0.8" />
<line x1="461.83" y1="372.40" x2="461.83" y2="374.10" stroke="#444" stroke-width="0.8" />
<line x1="465.89" y1="372.40" x2="465.89" y2="374.10" stroke="#444" stroke-width="0.8" />
<line x1="469.20" y1="372.40" x2="469.20" y2="374.10" stroke="#444" stroke-width="0.8" />
<line x1="472.01" y1="372.40" x2="472.01" y2="374.10" stroke="#444" stroke-width="0.8" />
<line x1="474.44" y1="372.40" x2="474.44" y2="374.10" stroke="#444" stroke-width="0.8" />
<line x1="476.58" y1="372.40" x2="476.58" y2="374.10" stroke="#444" stroke-width="0.8" />
<line x1="478.50" y1="372.40" x2="478.50" y2="375.40" stroke="#444" stroke-width="1" />
<text x="478.5" y="382.9" font-size="7.2" fill="#2e2e2e" text-anchor="middle" stroke="#2e2e2e" stroke-width="0.18">1,000</text>
<line x1="491.11" y1="372.40" x2="491.11" y2="374.10" stroke="#444" stroke-width="0.8" />
<line x1="498.49" y1="372.40" x2="498.49" y2="374.10" stroke="#444" stroke-width="0.8" />
<line x1="503.73" y1="372.40" x2="503.73" y2="374.10" stroke="#444" stroke-width="0.8" />
<line x1="507.79" y1="372.40" x2="507.79" y2="374.10" stroke="#444" stroke-width="0.8" />
<line x1="511.10" y1="372.40" x2="511.10" y2="374.10" stroke="#444" stroke-width="0.8" />
<line x1="513.91" y1="372.40" x2="513.91" y2="374.10" stroke="#444" stroke-width="0.8" />
<line x1="516.34" y1="372.40" x2="516.34" y2="374.10" stroke="#444" stroke-width="0.8" />
<line x1="518.48" y1="372.40" x2="518.48" y2="374.10" stroke="#444" stroke-width="0.8" />
<line x1="520.40" y1="372.40" x2="520.40" y2="375.40" stroke="#444" stroke-width="1" />
<text x="520.4" y="382.9" font-size="7.2" fill="#2e2e2e" text-anchor="middle" stroke="#2e2e2e" stroke-width="0.18">10,000</text>
<line x1="309.40" y1="372.53" x2="311.10" y2="372.53" stroke="#444" stroke-width="0.8" />
<line x1="309.40" y1="369.65" x2="311.10" y2="369.65" stroke="#444" stroke-width="0.8" />
<line x1="309.40" y1="367.22" x2="311.10" y2="367.22" stroke="#444" stroke-width="0.8" />
<line x1="309.40" y1="365.12" x2="311.10" y2="365.12" stroke="#444" stroke-width="0.8" />
<line x1="309.40" y1="363.26" x2="311.10" y2="363.26" stroke="#444" stroke-width="0.8" />
<line x1="308.10" y1="361.60" x2="311.10" y2="361.60" stroke="#444" stroke-width="1" />
<text x="306.0" y="363.6" font-size="7.0" fill="#2e2e2e" text-anchor="end" stroke="#2e2e2e" stroke-width="0.18">1</text>
<line x1="309.40" y1="350.67" x2="311.10" y2="350.67" stroke="#444" stroke-width="0.8" />
<line x1="309.40" y1="344.28" x2="311.10" y2="344.28" stroke="#444" stroke-width="0.8" />
<line x1="309.40" y1="339.75" x2="311.10" y2="339.75" stroke="#444" stroke-width="0.8" />
<line x1="309.40" y1="336.23" x2="311.10" y2="336.23" stroke="#444" stroke-width="0.8" />
<line x1="309.40" y1="333.35" x2="311.10" y2="333.35" stroke="#444" stroke-width="0.8" />
<line x1="309.40" y1="330.92" x2="311.10" y2="330.92" stroke="#444" stroke-width="0.8" />
<line x1="309.40" y1="328.82" x2="311.10" y2="328.82" stroke="#444" stroke-width="0.8" />
<line x1="309.40" y1="326.96" x2="311.10" y2="326.96" stroke="#444" stroke-width="0.8" />
<line x1="308.10" y1="325.30" x2="311.10" y2="325.30" stroke="#444" stroke-width="1" />
<text x="306.0" y="327.3" font-size="7.0" fill="#2e2e2e" text-anchor="end" stroke="#2e2e2e" stroke-width="0.18">10</text>
<line x1="309.40" y1="314.37" x2="311.10" y2="314.37" stroke="#444" stroke-width="0.8" />
<line x1="309.40" y1="307.98" x2="311.10" y2="307.98" stroke="#444" stroke-width="0.8" />
<line x1="309.40" y1="303.45" x2="311.10" y2="303.45" stroke="#444" stroke-width="0.8" />
<line x1="309.40" y1="299.93" x2="311.10" y2="299.93" stroke="#444" stroke-width="0.8" />
<line x1="309.40" y1="297.05" x2="311.10" y2="297.05" stroke="#444" stroke-width="0.8" />
<line x1="309.40" y1="294.62" x2="311.10" y2="294.62" stroke="#444" stroke-width="0.8" />
<line x1="309.40" y1="292.52" x2="311.10" y2="292.52" stroke="#444" stroke-width="0.8" />
<line x1="309.40" y1="290.66" x2="311.10" y2="290.66" stroke="#444" stroke-width="0.8" />
<line x1="308.10" y1="289.00" x2="311.10" y2="289.00" stroke="#444" stroke-width="1" />
<text x="306.0" y="291.0" font-size="7.0" fill="#2e2e2e" text-anchor="end" stroke="#2e2e2e" stroke-width="0.18">100</text>
<line x1="309.40" y1="278.07" x2="311.10" y2="278.07" stroke="#444" stroke-width="0.8" />
<line x1="309.40" y1="271.68" x2="311.10" y2="271.68" stroke="#444" stroke-width="0.8" />
<line x1="309.40" y1="267.15" x2="311.10" y2="267.15" stroke="#444" stroke-width="0.8" />
<line x1="309.40" y1="263.63" x2="311.10" y2="263.63" stroke="#444" stroke-width="0.8" />
<line x1="309.40" y1="260.75" x2="311.10" y2="260.75" stroke="#444" stroke-width="0.8" />
<line x1="309.40" y1="258.32" x2="311.10" y2="258.32" stroke="#444" stroke-width="0.8" />
<line x1="309.40" y1="256.22" x2="311.10" y2="256.22" stroke="#444" stroke-width="0.8" />
<line x1="309.40" y1="254.36" x2="311.10" y2="254.36" stroke="#444" stroke-width="0.8" />
<line x1="308.10" y1="252.70" x2="311.10" y2="252.70" stroke="#444" stroke-width="1" />
<text x="306.0" y="254.7" font-size="7.0" fill="#2e2e2e" text-anchor="end" stroke="#2e2e2e" stroke-width="0.18">1,000</text>
<line x1="309.40" y1="241.77" x2="311.10" y2="241.77" stroke="#444" stroke-width="0.8" />
<line x1="309.40" y1="235.38" x2="311.10" y2="235.38" stroke="#444" stroke-width="0.8" />
<line x1="309.40" y1="230.85" x2="311.10" y2="230.85" stroke="#444" stroke-width="0.8" />
<line x1="309.40" y1="227.33" x2="311.10" y2="227.33" stroke="#444" stroke-width="0.8" />
<line x1="309.40" y1="224.45" x2="311.10" y2="224.45" stroke="#444" stroke-width="0.8" />
<line x1="309.40" y1="222.02" x2="311.10" y2="222.02" stroke="#444" stroke-width="0.8" />
<line x1="309.40" y1="219.92" x2="311.10" y2="219.92" stroke="#444" stroke-width="0.8" />
<line x1="309.40" y1="218.06" x2="311.10" y2="218.06" stroke="#444" stroke-width="0.8" />
<line x1="308.10" y1="216.40" x2="311.10" y2="216.40" stroke="#444" stroke-width="1" />
<text x="306.0" y="218.4" font-size="7.0" fill="#2e2e2e" text-anchor="end" stroke="#2e2e2e" stroke-width="0.18">10,000</text>
<line x1="311.10" y1="293.40" x2="519.80" y2="365.40" stroke="#333" stroke-width="1" />
<text x="314.4" y="281.0" font-size="8.4" font-weight="bold" fill="#111" text-anchor="start" textLength="115" lengthAdjust="spacingAndGlyphs" >Robeson upper bound (2008)</text>
<line x1="348.4" y1="285.6" x2="340.6" y2="297.4" stroke="#111" stroke-width="0.9"/>
<path d="M339.0,299.8 L339.6,295.2 L342.6,297.2 Z" fill="#111"/>
<text x="340.6" y="354.7" font-size="8.0" font-weight="bold" fill="#111" text-anchor="start" textLength="88.4" lengthAdjust="spacingAndGlyphs" >Polymeric membranes</text>
<text x="427.6" y="298.5" font-size="8.2" font-weight="bold" fill="#ff2020" text-anchor="start" textLength="84.8" lengthAdjust="spacingAndGlyphs" >EFDA-GO (This work)</text>
<text x="372.7" y="394.0" font-size="8.4" font-weight="bold" fill="#111" text-anchor="start" textLength="92" lengthAdjust="spacingAndGlyphs" >H<tspan font-size="5.21" dy="2.69">2</tspan><tspan dy="-2.69"> permeability (Barrer)</tspan></text>
<text transform="translate(287.4,293.5) rotate(-90)" x="0" y="0" font-size="8.4" font-weight="bold" fill="#111" text-anchor="middle" textLength="77.8" lengthAdjust="spacingAndGlyphs">H<tspan font-size="5.21" dy="2.69">2</tspan><tspan dy="-2.69">/CO</tspan><tspan font-size="5.21" dy="2.69">2</tspan><tspan dy="-2.69"> selectivity(-)</tspan></text>
<polygon points="444.85,336.10 443.48,338.48 440.73,338.48 439.35,336.10 440.73,333.72 443.48,333.72" fill="none" stroke="#1e9e3c" stroke-width="1.3"/>
<circle cx="327.4" cy="305.7" r="3.0" fill="none" stroke="#c040b0" stroke-width="1.2"/>
<polygon points="370.00,233.9 375.30,230.50 375.30,237.30" fill="none" stroke="#1a1a1a" stroke-width="1.3"/>
<rect x="413.00" y="326.80" width="4.2" height="4.0" fill="none" stroke="#3a3aff" stroke-width="1.3"/>
<polygon points="376.6,324.10 379.60,329.10 373.60,329.10" fill="none" stroke="#ff2cff" stroke-width="1.2"/>
<polygon points="455.3,326.80 458.50,330.0 455.3,333.20 452.10,330.0" fill="none" stroke="#4040b4" stroke-width="1.1"/>
<polygon points="501.60,333.8 496.30,330.80 496.30,336.80" fill="none" stroke="#ff2cff" stroke-width="1.2"/>
<rect x="513.60" y="316.60" width="3.6" height="4.6" fill="none" stroke="#ff40a0" stroke-width="1.2"/>
<line x1="515.4" y1="316.60" x2="515.4" y2="321.20" stroke="#ff40a0" stroke-width="0.9"/>
<polygon points="492.20,363.20 495.15,365.34 494.02,368.81 490.38,368.81 489.25,365.34" fill="none" stroke="#c0303a" stroke-width="1.2"/>
<polygon points="464.4,345.50 467.40,340.30 461.40,340.30" fill="none" stroke="#16a096" stroke-width="1.2"/>
<polygon points="474.50,303.60 475.43,305.62 477.64,305.88 476.01,307.39 476.44,309.57 474.50,308.48 472.56,309.57 472.99,307.39 471.36,305.88 473.57,305.62" fill="#ff1010"/>
<polygon points="480.60,305.40 481.53,307.42 483.74,307.68 482.11,309.19 482.54,311.37 480.60,310.28 478.66,311.37 479.09,309.19 477.46,307.68 479.67,307.42" fill="#ff1010"/>
<polygon points="410.25,223.00 408.88,225.38 406.12,225.38 404.75,223.00 406.12,220.62 408.88,220.62" fill="none" stroke="#1e9e3c" stroke-width="1.3"/>
<text x="417.6" y="225.8" font-size="8.0" fill="#262626" text-anchor="start" stroke="#262626" stroke-width="0.15">CMS</text>
<circle cx="407.5" cy="232.8" r="2.55" fill="none" stroke="#c040b0" stroke-width="1.2"/>
<text x="417.6" y="235.60000000000002" font-size="8.0" fill="#262626" text-anchor="start" stroke="#262626" stroke-width="0.15">GO (Kim et al.)</text>
<polygon points="404.50,242.4 409.80,239.00 409.80,245.80" fill="none" stroke="#1a1a1a" stroke-width="1.3"/>
<text x="417.6" y="245.20000000000002" font-size="8.0" fill="#262626" text-anchor="start" stroke="#262626" stroke-width="0.15">GO (Li et al.)</text>
<rect x="405.40" y="249.80" width="4.2" height="4.0" fill="none" stroke="#3a3aff" stroke-width="1.3"/>
<text x="417.6" y="254.60000000000002" font-size="8.0" fill="#262626" text-anchor="start" stroke="#262626" stroke-width="0.15">Polyimide</text>
<polygon points="407.5,259.00 410.50,264.00 404.50,264.00" fill="none" stroke="#ff2cff" stroke-width="1.2"/>
<text x="417.6" y="264.5" font-size="8.0" fill="#262626" text-anchor="start" stroke="#262626" stroke-width="0.15">PBI</text>
<polygon points="475.3,219.80 478.50,223.0 475.3,226.20 472.10,223.0" fill="none" stroke="#4040b4" stroke-width="1.1"/>
<text x="485.2" y="225.8" font-size="8.0" fill="#262626" text-anchor="start" stroke="#262626" stroke-width="0.15">ZIF-7</text>
<polygon points="478.30,232.8 473.00,229.80 473.00,235.80" fill="none" stroke="#ff2cff" stroke-width="1.2"/>
<text x="485.2" y="235.60000000000002" font-size="8.0" fill="#262626" text-anchor="start" stroke="#262626" stroke-width="0.15">ZIF-8</text>
<rect x="473.50" y="240.10" width="3.6" height="4.6" fill="none" stroke="#ff40a0" stroke-width="1.2"/>
<line x1="475.3" y1="240.10" x2="475.3" y2="244.70" stroke="#ff40a0" stroke-width="0.9"/>
<text x="485.2" y="245.20000000000002" font-size="8.0" fill="#262626" text-anchor="start" stroke="#262626" stroke-width="0.15">ZIF-8/GO</text>
<polygon points="475.30,249.00 478.25,251.14 477.12,254.61 473.48,254.61 472.35,251.14" fill="none" stroke="#c0303a" stroke-width="1.2"/>
<text x="485.2" y="254.60000000000002" font-size="8.0" fill="#262626" text-anchor="start" stroke="#262626" stroke-width="0.15">PIM</text>
<polygon points="475.3,264.60 478.30,259.40 472.30,259.40" fill="none" stroke="#16a096" stroke-width="1.2"/>
<text x="485.2" y="264.5" font-size="8.0" fill="#262626" text-anchor="start" stroke="#262626" stroke-width="0.15">MoS<tspan font-size="5" dx="0.4" dy="3.0">2</tspan></text>
</svg>
</body></html>
